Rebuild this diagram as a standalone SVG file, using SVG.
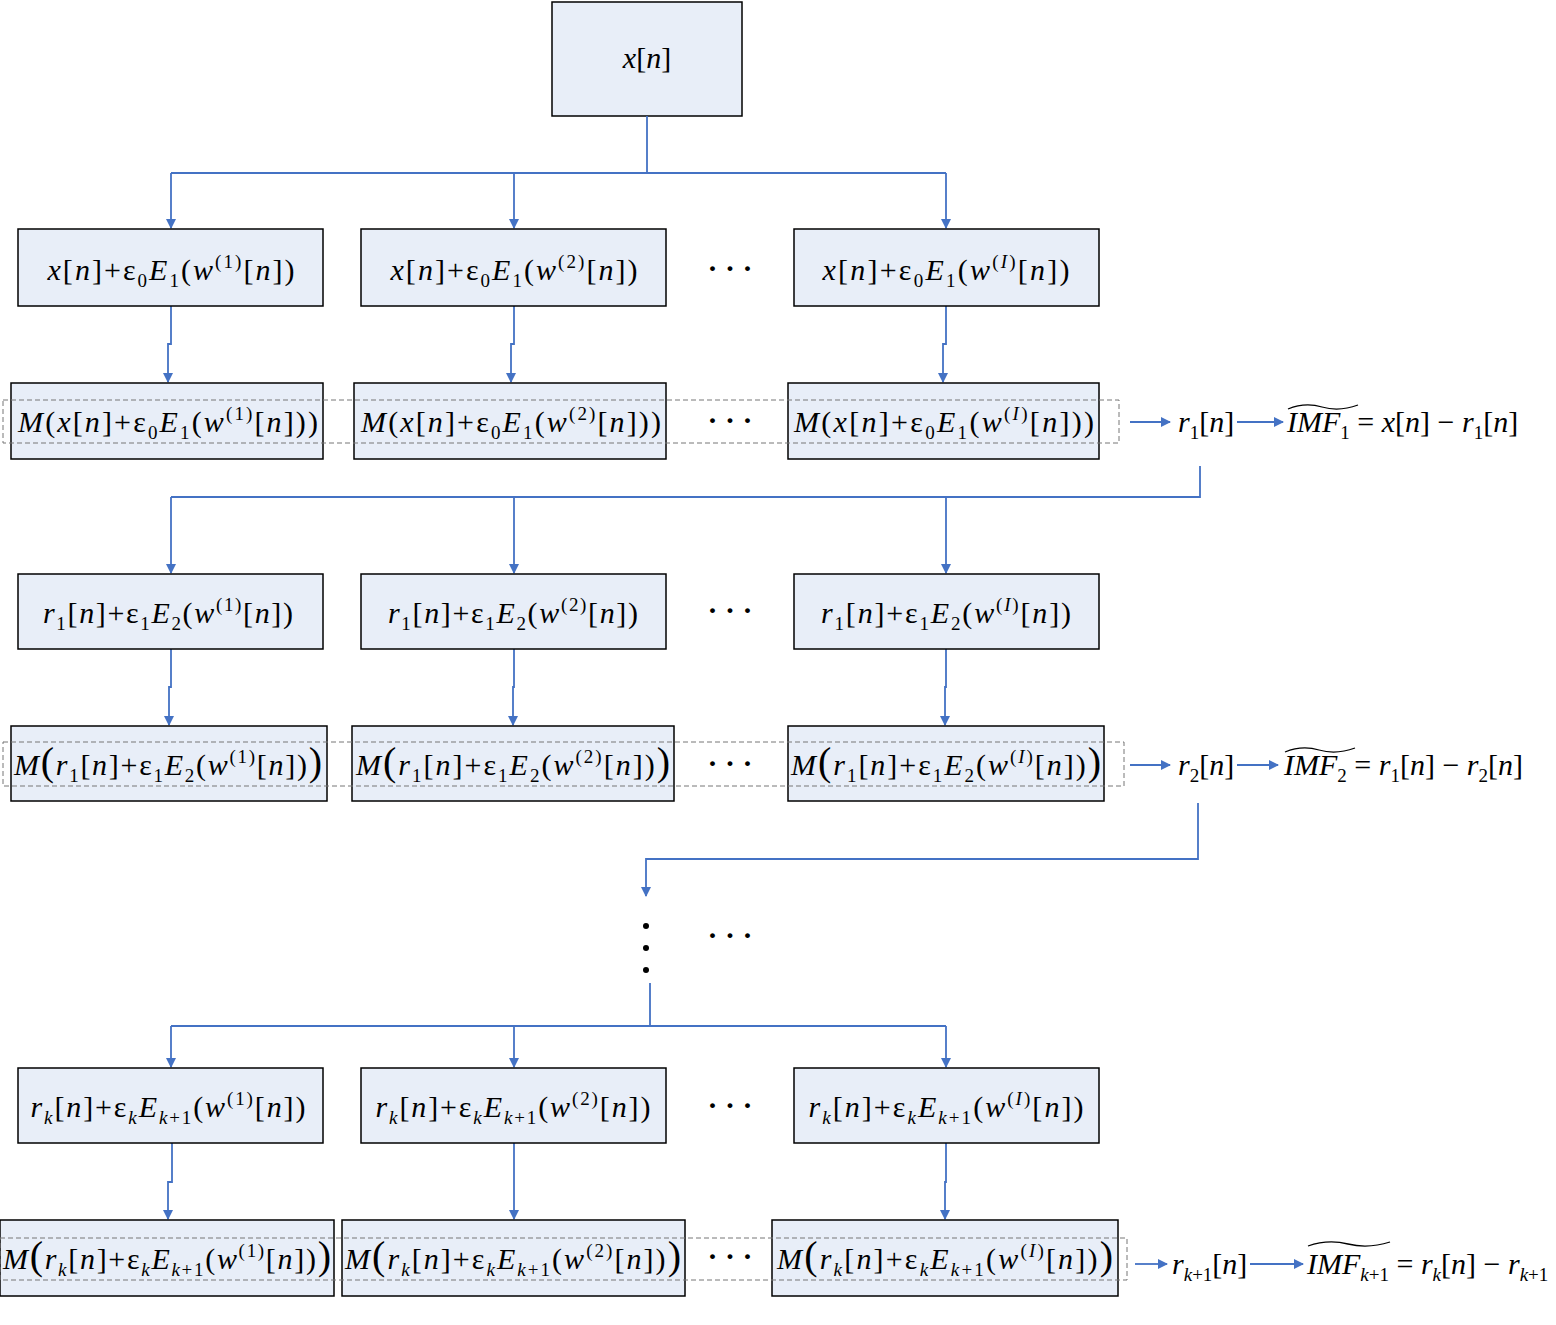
<svg xmlns="http://www.w3.org/2000/svg" width="1556" height="1325" viewBox="0 0 1556 1325">
<defs>
<marker id="a" markerWidth="10" markerHeight="10" refX="9" refY="5" orient="auto" markerUnits="userSpaceOnUse"><path d="M0,0 L10,5 L0,10 Z" fill="#4472C4"/></marker>
<style>
.b{fill:#E8EEF8;stroke:#000;stroke-width:1.5}
.d{fill:none;stroke:#777;stroke-width:1;stroke-dasharray:5,3}
.c path,.c line{fill:none;stroke:#4472C4;stroke-width:1.8}
.t{font-family:"Liberation Serif",serif;font-size:30px;fill:#000}
.i{font-style:italic}
.s{font-size:19px}
.p{font-size:40px}
.dot{fill:#000}
</style>
</defs>
<rect width="1556" height="1325" fill="#fff"/>
<g id="top"><rect class="b" x="552" y="2" width="190" height="114"/><text class="t" x="647" y="68" text-anchor="middle"><tspan class="i">x</tspan>[<tspan class="i">n</tspan>]</text></g>

<g class="c" id="connectors">
<path d="M647 116 V173 M171 173 H946"/>
<line x1="171" y1="173" x2="171" y2="228" marker-end="url(#a)"/>
<line x1="514" y1="173" x2="514" y2="228" marker-end="url(#a)"/>
<line x1="946" y1="173" x2="946" y2="228" marker-end="url(#a)"/>
<path d="M171 306 V344 H168 V382" marker-end="url(#a)"/>
<path d="M514 306 V344 H511 V382" marker-end="url(#a)"/>
<path d="M946 306 V344 H943 V382" marker-end="url(#a)"/>
<line x1="1130" y1="422" x2="1170" y2="422" marker-end="url(#a)"/>
<line x1="1237" y1="422" x2="1283" y2="422" marker-end="url(#a)"/>
<path d="M1200 466 V497 H171"/>
<line x1="171" y1="497" x2="171" y2="573" marker-end="url(#a)"/>
<line x1="514" y1="497" x2="514" y2="573" marker-end="url(#a)"/>
<line x1="946" y1="497" x2="946" y2="573" marker-end="url(#a)"/>
<path d="M171 649 V687 H169 V725" marker-end="url(#a)"/>
<path d="M514 649 V687 H513 V725" marker-end="url(#a)"/>
<path d="M946 649 V687 H945 V725" marker-end="url(#a)"/>
<line x1="1130" y1="765" x2="1170" y2="765" marker-end="url(#a)"/>
<line x1="1237" y1="765" x2="1278" y2="765" marker-end="url(#a)"/>
<path d="M1198 803 V859 H646 V896" marker-end="url(#a)"/>
<path d="M650 983 V1026 M171 1026 H946"/>
<line x1="171" y1="1026" x2="171" y2="1067" marker-end="url(#a)"/>
<line x1="514" y1="1026" x2="514" y2="1067" marker-end="url(#a)"/>
<line x1="946" y1="1026" x2="946" y2="1067" marker-end="url(#a)"/>
<path d="M172 1143 V1182 H168 V1219" marker-end="url(#a)"/>
<line x1="514" y1="1143" x2="514" y2="1219" marker-end="url(#a)"/>
<path d="M946 1143 V1182 H945 V1219" marker-end="url(#a)"/>
<line x1="1135" y1="1264" x2="1167" y2="1264" marker-end="url(#a)"/>
<line x1="1250" y1="1264" x2="1303" y2="1264" marker-end="url(#a)"/>
</g>

<!-- Row 1 -->
<g id="r1a"><rect class="b" x="18" y="229" width="305" height="77"/><text class="t" x="171" y="280" text-anchor="middle" textLength="247" lengthAdjust="spacing"><tspan class="i">x</tspan>[<tspan class="i">n</tspan>]+ε<tspan class="s" dy="7">0</tspan><tspan class="i" dy="-7">E</tspan><tspan class="s" dy="7">1</tspan><tspan dy="-7">(</tspan><tspan class="i">w</tspan><tspan class="s" dy="-12">(1)</tspan><tspan dy="12">[</tspan><tspan class="i">n</tspan>])</text></g>
<g id="r1b"><rect class="b" x="361" y="229" width="305" height="77"/><text class="t" x="514" y="280" text-anchor="middle" textLength="247" lengthAdjust="spacing"><tspan class="i">x</tspan>[<tspan class="i">n</tspan>]+ε<tspan class="s" dy="7">0</tspan><tspan class="i" dy="-7">E</tspan><tspan class="s" dy="7">1</tspan><tspan dy="-7">(</tspan><tspan class="i">w</tspan><tspan class="s" dy="-12">(2)</tspan><tspan dy="12">[</tspan><tspan class="i">n</tspan>])</text></g>
<g id="r1c"><rect class="b" x="794" y="229" width="305" height="77"/><text class="t" x="946" y="280" text-anchor="middle" textLength="247" lengthAdjust="spacing"><tspan class="i">x</tspan>[<tspan class="i">n</tspan>]+ε<tspan class="s" dy="7">0</tspan><tspan class="i" dy="-7">E</tspan><tspan class="s" dy="7">1</tspan><tspan dy="-7">(</tspan><tspan class="i">w</tspan><tspan class="s" dy="-12">(<tspan class="i">I</tspan>)</tspan><tspan dy="12">[</tspan><tspan class="i">n</tspan>])</text></g>
<text class="t" x="730" y="278" text-anchor="middle" font-weight="bold">· · ·</text>

<!-- Row 2 -->
<g id="r2a"><rect class="b" x="11" y="383" width="312" height="76"/></g>
<g id="r2b"><rect class="b" x="354" y="383" width="312" height="76"/></g>
<g id="r2c"><rect class="b" x="788" y="383" width="311" height="76"/></g>
<rect class="d" x="3" y="400" width="1116" height="43"/>
<text class="t" x="168" y="432" text-anchor="middle" textLength="300" lengthAdjust="spacing"><tspan class="i">M</tspan>(<tspan class="i">x</tspan>[<tspan class="i">n</tspan>]+ε<tspan class="s" dy="7">0</tspan><tspan class="i" dy="-7">E</tspan><tspan class="s" dy="7">1</tspan><tspan dy="-7">(</tspan><tspan class="i">w</tspan><tspan class="s" dy="-12">(1)</tspan><tspan dy="12">[</tspan><tspan class="i">n</tspan>]))</text>
<text class="t" x="511" y="432" text-anchor="middle" textLength="300" lengthAdjust="spacing"><tspan class="i">M</tspan>(<tspan class="i">x</tspan>[<tspan class="i">n</tspan>]+ε<tspan class="s" dy="7">0</tspan><tspan class="i" dy="-7">E</tspan><tspan class="s" dy="7">1</tspan><tspan dy="-7">(</tspan><tspan class="i">w</tspan><tspan class="s" dy="-12">(2)</tspan><tspan dy="12">[</tspan><tspan class="i">n</tspan>]))</text>
<text class="t" x="944" y="432" text-anchor="middle" textLength="300" lengthAdjust="spacing"><tspan class="i">M</tspan>(<tspan class="i">x</tspan>[<tspan class="i">n</tspan>]+ε<tspan class="s" dy="7">0</tspan><tspan class="i" dy="-7">E</tspan><tspan class="s" dy="7">1</tspan><tspan dy="-7">(</tspan><tspan class="i">w</tspan><tspan class="s" dy="-12">(<tspan class="i">I</tspan>)</tspan><tspan dy="12">[</tspan><tspan class="i">n</tspan>]))</text>
<text class="t" x="730" y="430" text-anchor="middle" font-weight="bold">· · ·</text>
<text class="t" x="1178" y="432"><tspan class="i">r</tspan><tspan class="s" dy="7">1</tspan><tspan dy="-7">[</tspan><tspan class="i">n</tspan>]</text>
<text class="t" x="1287" y="432"><tspan class="i">IMF</tspan><tspan class="s" dy="7">1</tspan><tspan dy="-7"> = </tspan><tspan class="i">x</tspan>[<tspan class="i">n</tspan>] − <tspan class="i">r</tspan><tspan class="s" dy="7">1</tspan><tspan dy="-7">[</tspan><tspan class="i">n</tspan>]</text>
<path d="M1288 409 q17 -7 34 -2 t36 -2" fill="none" stroke="#000" stroke-width="1.3"/>

<!-- Row 3 -->
<g id="r3a"><rect class="b" x="18" y="574" width="305" height="75"/><text class="t" x="168" y="623" text-anchor="middle" textLength="250" lengthAdjust="spacing"><tspan class="i">r</tspan><tspan class="s" dy="7">1</tspan><tspan dy="-7">[</tspan><tspan class="i">n</tspan>]+ε<tspan class="s" dy="7">1</tspan><tspan class="i" dy="-7">E</tspan><tspan class="s" dy="7">2</tspan><tspan dy="-7">(</tspan><tspan class="i">w</tspan><tspan class="s" dy="-12">(1)</tspan><tspan dy="12">[</tspan><tspan class="i">n</tspan>])</text></g>
<g id="r3b"><rect class="b" x="361" y="574" width="305" height="75"/><text class="t" x="513" y="623" text-anchor="middle" textLength="250" lengthAdjust="spacing"><tspan class="i">r</tspan><tspan class="s" dy="7">1</tspan><tspan dy="-7">[</tspan><tspan class="i">n</tspan>]+ε<tspan class="s" dy="7">1</tspan><tspan class="i" dy="-7">E</tspan><tspan class="s" dy="7">2</tspan><tspan dy="-7">(</tspan><tspan class="i">w</tspan><tspan class="s" dy="-12">(2)</tspan><tspan dy="12">[</tspan><tspan class="i">n</tspan>])</text></g>
<g id="r3c"><rect class="b" x="794" y="574" width="305" height="75"/><text class="t" x="946" y="623" text-anchor="middle" textLength="250" lengthAdjust="spacing"><tspan class="i">r</tspan><tspan class="s" dy="7">1</tspan><tspan dy="-7">[</tspan><tspan class="i">n</tspan>]+ε<tspan class="s" dy="7">1</tspan><tspan class="i" dy="-7">E</tspan><tspan class="s" dy="7">2</tspan><tspan dy="-7">(</tspan><tspan class="i">w</tspan><tspan class="s" dy="-12">(<tspan class="i">I</tspan>)</tspan><tspan dy="12">[</tspan><tspan class="i">n</tspan>])</text></g>
<text class="t" x="730" y="620" text-anchor="middle" font-weight="bold">· · ·</text>

<!-- Row 4 -->
<g id="r4a"><rect class="b" x="11" y="726" width="316" height="75"/></g>
<g id="r4b"><rect class="b" x="352" y="726" width="322" height="75"/></g>
<g id="r4c"><rect class="b" x="788" y="726" width="316" height="75"/></g>
<rect class="d" x="3" y="742" width="1121" height="44"/>
<text class="t" x="168" y="775" text-anchor="middle" textLength="308" lengthAdjust="spacing"><tspan class="i">M</tspan><tspan class="p">(</tspan><tspan class="i">r</tspan><tspan class="s" dy="7">1</tspan><tspan dy="-7">[</tspan><tspan class="i">n</tspan>]+ε<tspan class="s" dy="7">1</tspan><tspan class="i" dy="-7">E</tspan><tspan class="s" dy="7">2</tspan><tspan dy="-7">(</tspan><tspan class="i">w</tspan><tspan class="s" dy="-12">(1)</tspan><tspan dy="12">[</tspan><tspan class="i">n</tspan>])<tspan class="p">)</tspan></text>
<text class="t" x="513" y="775" text-anchor="middle" textLength="314" lengthAdjust="spacing"><tspan class="i">M</tspan><tspan class="p">(</tspan><tspan class="i">r</tspan><tspan class="s" dy="7">1</tspan><tspan dy="-7">[</tspan><tspan class="i">n</tspan>]+ε<tspan class="s" dy="7">1</tspan><tspan class="i" dy="-7">E</tspan><tspan class="s" dy="7">2</tspan><tspan dy="-7">(</tspan><tspan class="i">w</tspan><tspan class="s" dy="-12">(2)</tspan><tspan dy="12">[</tspan><tspan class="i">n</tspan>])<tspan class="p">)</tspan></text>
<text class="t" x="946" y="775" text-anchor="middle" textLength="310" lengthAdjust="spacing"><tspan class="i">M</tspan><tspan class="p">(</tspan><tspan class="i">r</tspan><tspan class="s" dy="7">1</tspan><tspan dy="-7">[</tspan><tspan class="i">n</tspan>]+ε<tspan class="s" dy="7">1</tspan><tspan class="i" dy="-7">E</tspan><tspan class="s" dy="7">2</tspan><tspan dy="-7">(</tspan><tspan class="i">w</tspan><tspan class="s" dy="-12">(<tspan class="i">I</tspan>)</tspan><tspan dy="12">[</tspan><tspan class="i">n</tspan>])<tspan class="p">)</tspan></text>
<text class="t" x="730" y="773" text-anchor="middle" font-weight="bold">· · ·</text>
<text class="t" x="1178" y="775"><tspan class="i">r</tspan><tspan class="s" dy="7">2</tspan><tspan dy="-7">[</tspan><tspan class="i">n</tspan>]</text>
<text class="t" x="1284" y="775"><tspan class="i">IMF</tspan><tspan class="s" dy="7">2</tspan><tspan dy="-7"> = </tspan><tspan class="i">r</tspan><tspan class="s" dy="7">1</tspan><tspan dy="-7">[</tspan><tspan class="i">n</tspan>] − <tspan class="i">r</tspan><tspan class="s" dy="7">2</tspan><tspan dy="-7">[</tspan><tspan class="i">n</tspan>]</text>
<path d="M1285 752 q17 -7 34 -2 t36 -2" fill="none" stroke="#000" stroke-width="1.3"/>

<!-- middle dots -->
<circle class="dot" cx="646" cy="926" r="3"/><circle class="dot" cx="646" cy="948" r="3"/><circle class="dot" cx="646" cy="970" r="3"/>
<text class="t" x="730" y="945" text-anchor="middle" font-weight="bold">· · ·</text>

<!-- Row 5 -->
<g id="r5a"><rect class="b" x="18" y="1068" width="305" height="75"/><text class="t" x="168" y="1117" text-anchor="middle" textLength="275" lengthAdjust="spacing"><tspan class="i">r</tspan><tspan class="s i" dy="7">k</tspan><tspan dy="-7">[</tspan><tspan class="i">n</tspan>]+ε<tspan class="s i" dy="7">k</tspan><tspan class="i" dy="-7">E</tspan><tspan class="s" dy="7"><tspan class="i">k</tspan>+1</tspan><tspan dy="-7">(</tspan><tspan class="i">w</tspan><tspan class="s" dy="-12">(1)</tspan><tspan dy="12">[</tspan><tspan class="i">n</tspan>])</text></g>
<g id="r5b"><rect class="b" x="361" y="1068" width="305" height="75"/><text class="t" x="513" y="1117" text-anchor="middle" textLength="275" lengthAdjust="spacing"><tspan class="i">r</tspan><tspan class="s i" dy="7">k</tspan><tspan dy="-7">[</tspan><tspan class="i">n</tspan>]+ε<tspan class="s i" dy="7">k</tspan><tspan class="i" dy="-7">E</tspan><tspan class="s" dy="7"><tspan class="i">k</tspan>+1</tspan><tspan dy="-7">(</tspan><tspan class="i">w</tspan><tspan class="s" dy="-12">(2)</tspan><tspan dy="12">[</tspan><tspan class="i">n</tspan>])</text></g>
<g id="r5c"><rect class="b" x="794" y="1068" width="305" height="75"/><text class="t" x="946" y="1117" text-anchor="middle" textLength="275" lengthAdjust="spacing"><tspan class="i">r</tspan><tspan class="s i" dy="7">k</tspan><tspan dy="-7">[</tspan><tspan class="i">n</tspan>]+ε<tspan class="s i" dy="7">k</tspan><tspan class="i" dy="-7">E</tspan><tspan class="s" dy="7"><tspan class="i">k</tspan>+1</tspan><tspan dy="-7">(</tspan><tspan class="i">w</tspan><tspan class="s" dy="-12">(<tspan class="i">I</tspan>)</tspan><tspan dy="12">[</tspan><tspan class="i">n</tspan>])</text></g>
<text class="t" x="730" y="1115" text-anchor="middle" font-weight="bold">· · ·</text>

<!-- Row 6 -->
<g id="r6a"><rect class="b" x="0" y="1220" width="334" height="76"/></g>
<g id="r6b"><rect class="b" x="342" y="1220" width="343" height="76"/></g>
<g id="r6c"><rect class="b" x="772" y="1220" width="346" height="76"/></g>
<rect class="d" x="0" y="1238" width="1127" height="42"/>
<text class="t" x="167" y="1269" text-anchor="middle" textLength="328" lengthAdjust="spacing"><tspan class="i">M</tspan><tspan class="p">(</tspan><tspan class="i">r</tspan><tspan class="s i" dy="7">k</tspan><tspan dy="-7">[</tspan><tspan class="i">n</tspan>]+ε<tspan class="s i" dy="7">k</tspan><tspan class="i" dy="-7">E</tspan><tspan class="s" dy="7"><tspan class="i">k</tspan>+1</tspan><tspan dy="-7">(</tspan><tspan class="i">w</tspan><tspan class="s" dy="-12">(1)</tspan><tspan dy="12">[</tspan><tspan class="i">n</tspan>])<tspan class="p">)</tspan></text>
<text class="t" x="513" y="1269" text-anchor="middle" textLength="336" lengthAdjust="spacing"><tspan class="i">M</tspan><tspan class="p">(</tspan><tspan class="i">r</tspan><tspan class="s i" dy="7">k</tspan><tspan dy="-7">[</tspan><tspan class="i">n</tspan>]+ε<tspan class="s i" dy="7">k</tspan><tspan class="i" dy="-7">E</tspan><tspan class="s" dy="7"><tspan class="i">k</tspan>+1</tspan><tspan dy="-7">(</tspan><tspan class="i">w</tspan><tspan class="s" dy="-12">(2)</tspan><tspan dy="12">[</tspan><tspan class="i">n</tspan>])<tspan class="p">)</tspan></text>
<text class="t" x="945" y="1269" text-anchor="middle" textLength="336" lengthAdjust="spacing"><tspan class="i">M</tspan><tspan class="p">(</tspan><tspan class="i">r</tspan><tspan class="s i" dy="7">k</tspan><tspan dy="-7">[</tspan><tspan class="i">n</tspan>]+ε<tspan class="s i" dy="7">k</tspan><tspan class="i" dy="-7">E</tspan><tspan class="s" dy="7"><tspan class="i">k</tspan>+1</tspan><tspan dy="-7">(</tspan><tspan class="i">w</tspan><tspan class="s" dy="-12">(<tspan class="i">I</tspan>)</tspan><tspan dy="12">[</tspan><tspan class="i">n</tspan>])<tspan class="p">)</tspan></text>
<text class="t" x="730" y="1266" text-anchor="middle" font-weight="bold">· · ·</text>
<text class="t" x="1172" y="1274"><tspan class="i">r</tspan><tspan class="s" dy="7"><tspan class="i">k</tspan>+1</tspan><tspan dy="-7">[</tspan><tspan class="i">n</tspan>]</text>
<text class="t" x="1307" y="1274"><tspan class="i">IMF</tspan><tspan class="s" dy="7"><tspan class="i">k</tspan>+1</tspan><tspan dy="-7"> = </tspan><tspan class="i">r</tspan><tspan class="s i" dy="7">k</tspan><tspan dy="-7">[</tspan><tspan class="i">n</tspan>] − <tspan class="i">r</tspan><tspan class="s" dy="7"><tspan class="i">k</tspan>+1</tspan></text>
<path d="M1308 1246 q20 -7 40 -2 t42 -2" fill="none" stroke="#000" stroke-width="1.3"/>
</svg>
